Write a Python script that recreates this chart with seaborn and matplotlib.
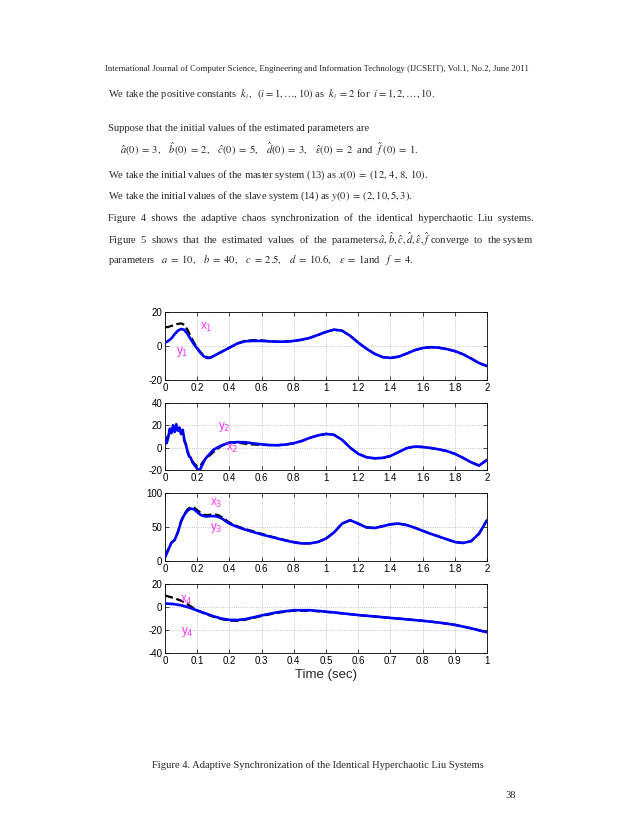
import numpy as np
import pandas as pd
import matplotlib
matplotlib.use("Agg")
import matplotlib.pyplot as plt
import seaborn as sns
from matplotlib.ticker import FormatStrFormatter

# ---- data (master x_i dashed, slave y_i solid) ----
t1 = [0, 0.02, 0.04, 0.06, 0.08, 0.1, 0.12, 0.14, 0.16, 0.18, 0.2, 0.22, 0.24, 0.26, 0.28, 0.3,
      0.35, 0.4, 0.45, 0.5, 0.55, 0.6, 0.65, 0.7, 0.75, 0.8, 0.85, 0.9, 0.95, 1.0, 1.05, 1.1,
      1.15, 1.2, 1.25, 1.3, 1.35, 1.4, 1.45, 1.5, 1.55, 1.6, 1.65, 1.7, 1.75, 1.8, 1.85, 1.9, 1.95, 2.0]
y1 = [2, 3, 4.5, 7, 9, 10, 9.5, 7, 4, 1, -1.5, -4, -6, -7, -7, -6,
      -3.5, -1, 1.5, 2.8, 3, 3, 2.7, 2.5, 2.6, 3, 3.7, 4.8, 6.5, 8.3, 9.6, 9,
      6, 2, -1.5, -4.5, -6.5, -7, -6.3, -4.5, -2.5, -1.2, -0.7, -1, -1.8, -3, -4.8, -7.3, -10, -11.8]
x1 = [11, 11.2, 11.8, 12.5, 13, 13.3, 12.5, 9.5, 5.5, 2, -1, -3.5, -5.5, -6.5, -7, -6,
      -3.5, -1, 1.5, 3.2, 3.4, 3.3, 2.8, 2.5, 2.6, 3, 3.7, 4.8, 6.5, 8.3, 9.6, 9,
      6, 2, -1.5, -4.5, -6.5, -7, -6.3, -4.5, -2.5, -1.2, -0.7, -1, -1.8, -3, -4.8, -7.3, -10, -11.8]

t2 = [0, 0.01, 0.02, 0.03, 0.04, 0.05, 0.06, 0.07, 0.08, 0.09, 0.1, 0.11, 0.12, 0.13, 0.14,
      0.15, 0.16, 0.17, 0.18, 0.19, 0.2, 0.21, 0.22, 0.23, 0.24, 0.25,
      0.3, 0.35, 0.4, 0.45, 0.5, 0.55, 0.6, 0.65, 0.7, 0.75, 0.8, 0.85, 0.9, 0.95, 1.0, 1.05,
      1.1, 1.15, 1.2, 1.25, 1.3, 1.35, 1.4, 1.45, 1.5, 1.55, 1.6, 1.65, 1.7, 1.75, 1.8, 1.85,
      1.9, 1.95, 2.0]
y2 = [8, 4, 9, 17, 13, 20, 14, 21, 15, 18, 13, 16, 7, 3, -4,
      -8, -9, -13, -15, -17, -19, -20, -19, -16, -13, -10,
      -2, 2, 4.5, 5, 4.8, 3.8, 3, 2.3, 2.2, 2.8, 4, 6, 8.8, 11, 12.3, 11.5,
      7, 0, -5.5, -8.5, -9.5, -9.2, -7.5, -4, -0.5, 1, 0.6, -0.3, -1.5, -3, -5.5, -9,
      -13, -16, -11]
x2 = [4, 7, 12, 15, 16, 18, 15, 19, 16, 17, 12, 14, 6, 2, -3,
      -7, -10, -12, -14, -15.5, -16.5, -17, -16, -14, -12, -10.5,
      -4, 1.5, 4.5, 4.5, 3.5, 2.8, 2.5, 2.3, 2.2, 2.8, 4, 6, 8.8, 11, 12.3, 11.5,
      7, 0, -5.5, -8.5, -9.5, -9.2, -7.5, -4, -0.5, 1, 0.6, -0.3, -1.5, -3, -5.5, -9,
      -13, -16, -11]

t3 = [0, 0.02, 0.04, 0.06, 0.08, 0.1, 0.12, 0.14, 0.16, 0.18, 0.2, 0.22, 0.24, 0.26, 0.28,
      0.3, 0.32, 0.34, 0.36, 0.38, 0.4, 0.45, 0.5, 0.55, 0.6, 0.65, 0.7, 0.75, 0.8, 0.85,
      0.9, 0.95, 1.0, 1.05, 1.1, 1.15, 1.2, 1.25, 1.3, 1.35, 1.4, 1.45, 1.5, 1.55, 1.6,
      1.65, 1.7, 1.75, 1.8, 1.85, 1.9, 1.95, 2.0]
y3 = [5, 16, 27, 31, 42, 58, 68, 74, 77, 76, 72, 68, 66, 65.5, 66,
      66, 65.5, 64, 61.5, 58, 55, 50, 46, 42.5, 39, 36, 33, 30, 27.5, 25.8,
      26, 28, 33, 42, 55, 60, 55, 49.5, 48.5, 51, 54, 55, 53, 49, 44.5,
      40, 36, 32, 28, 26.5, 29, 40, 60]
x3 = [8, 17, 27, 31, 43, 59, 69, 76, 79, 78.5, 75, 71, 68, 67.5, 68,
      68.5, 68, 66.5, 63.5, 60, 56.5, 51, 47, 43.5, 40, 36.5, 33.5, 30.5, 28, 25.8,
      26, 28, 33, 42, 55, 60, 55, 49.5, 48.5, 51, 54, 55, 53, 49, 44.5,
      40, 36, 32, 28, 26.5, 29, 40, 60]

t4 = [0, 0.025, 0.05, 0.075, 0.1, 0.125, 0.15, 0.175, 0.2, 0.225, 0.25, 0.275, 0.3,
      0.35, 0.4, 0.45, 0.5, 0.55, 0.6, 0.65, 0.7, 0.75, 0.8, 0.85, 0.9, 0.95, 1.0]
y4 = [3, 2.6, 1.5, -0.5, -3, -5.5, -8, -10, -11.2, -11.3, -10.5, -9, -7.3,
      -4.5, -2.8, -2.8, -4, -5.5, -7, -8.2, -9.5, -10.7, -12, -13.5, -15.5, -18.5, -22]
x4 = [10, 8, 5.5, 1.5, -3, -6, -8.5, -10.5, -11.8, -12, -11, -9.5, -7.8,
      -5, -3.2, -3.2, -4.3, -5.5, -7, -8.2, -9.5, -10.7, -12, -13.5, -15.5, -18.5, -22]

panels = [
    (t1, x1, y1, (-20, 20), [-20, 0, 20], (0, 2), ("x", "1", 0.22, 11), ("y", "1", 0.07, -3.5)),
    (t2, x2, y2, (-20, 40), [-20, 0, 20, 40], (0, 2), ("x", "2", 0.38, -0.5), ("y", "2", 0.33, 18.5)),
    (t3, x3, y3, (0, 100), [0, 50, 100], (0, 2), ("x", "3", 0.28, 85), ("y", "3", 0.28, 48)),
    (t4, x4, y4, (-40, 20), [-40, -20, 0, 20], (0, 1), ("x", "4", 0.047, 6), ("y", "4", 0.05, -22)),
]
# axes boxes in pixels: (top, bottom)
boxes = [(312, 380), (403, 470), (493, 561), (584, 653)]

sns.set_theme(style="white")
plt.rcParams["font.family"] = ["Liberation Sans Narrow", "Liberation Sans", "DejaVu Sans"]
plt.rcParams["mathtext.fontset"] = "stix"

W, H = 638, 826
fig = plt.figure(figsize=(W / 100, H / 100), dpi=100)
fig.patch.set_facecolor("white")

serif = ["Liberation Serif", "DejaVu Serif"]
fs = 7.6
def ptext(x, y, s, **kw):
    kw.setdefault("fontsize", fs)
    kw.setdefault("family", serif)
    fig.text(x / W, 1 - y / H, s, va="center", **kw)

ptext(105, 69, "International Journal of Computer Science, Engineering and Information Technology (IJCSEIT), Vol.1, No.2, June 2011", fontsize=6.3)
ptext(108, 94, r"We take the positive constants  $k_i,\ \ (i=1,\ldots,10)$ as  $k_i\ =2$ for  $i=1,2,\ldots,10.$")
ptext(108, 128, "Suppose that the initial values of the estimated parameters are")
ptext(120, 149, r"$\hat{a}(0)\;=\;3,\ \ \ \hat{b}(0)\;=\;2,\ \ \ \hat{c}(0)\;=\;5,\ \ \ \hat{d}(0)\;=\;3,\ \ \ \hat{\varepsilon}(0)\;=\;2$  and  $\hat{f}\ (0)\;=\;1.$")
ptext(108, 175, r"We take the initial values of the master system (13) as $x(0)\;=\;(12,\,4,\,8,\,10).$")
ptext(108, 196, r"We take the initial values of the slave system (14) as $y(0)\;=\;(2,10,5,3).$")
ptext(108, 218, "Figure  4  shows  the  adaptive  chaos  synchronization  of  the  identical  hyperchaotic  Liu  systems.")
ptext(108, 239, r"Figure  5  shows  that  the  estimated  values  of  the  parameters$\,\hat{a},\hat{b},\hat{c},\hat{d},\hat{\varepsilon},\hat{f}$ converge  to  the system")
ptext(108, 260, r"parameters   $a\;=\;10,\ \ \ b\;=\;40,\ \ \ c\;=\;2.5,\ \ \ d\;=\;10.6,\ \ \ \varepsilon\;=\;1$and   $f\;=\;4.$")
ptext(318, 765, "Figure 4. Adaptive Synchronization of the Identical Hyperchaotic Liu Systems", ha="center")
ptext(505, 795, "38")

left, right = 165, 487
for (t, xs, ys, ylim, yt, xlim, lx, ly), (top, bot) in zip(panels, boxes):
    ax = fig.add_axes([left / W, 1 - bot / H, (right - left) / W, (bot - top) / H])
    df = pd.DataFrame({"t": t, "x": xs, "y": ys})
    sns.lineplot(data=df, x="t", y="x", ax=ax, color="black", linestyle="--", linewidth=1.6, zorder=2)
    sns.lineplot(data=df, x="t", y="y", ax=ax, color="#0000ff", linewidth=1.9, zorder=3)
    ax.set_xlim(*xlim)
    ax.set_ylim(*ylim)
    ax.set_yticks(yt)
    if xlim[1] == 2:
        ax.set_xticks(np.arange(0, 2.01, 0.2))
    else:
        ax.set_xticks(np.arange(0, 1.01, 0.1))
    ax.xaxis.set_major_formatter(FormatStrFormatter("%g"))
    ax.yaxis.set_major_formatter(FormatStrFormatter("%g"))
    ax.set_xlabel("")
    ax.set_ylabel("")
    ax.grid(True, color="#b0b0b0", linestyle=":", linewidth=0.6)
    ax.tick_params(direction="in", length=3, width=0.5, labelsize=7, pad=2, colors="black",
                   top=True, right=True, bottom=True, left=True)
    for sp in ax.spines.values():
        sp.set_color("black")
        sp.set_linewidth(0.6)
    for name, sub, tx, vy in (lx, ly):
        ax.text(tx, vy, r"%s$_{\mathsf{%s}}$" % (name, sub), color="#ff33ff", fontsize=8.5,
                ha="left", va="center", math_fontfamily="dejavusans")

fig.text(326 / W, 1 - 675 / H, "Time (sec)", ha="center", va="center", fontsize=9.5)

fig.savefig("out.png", dpi=100, facecolor="white")
